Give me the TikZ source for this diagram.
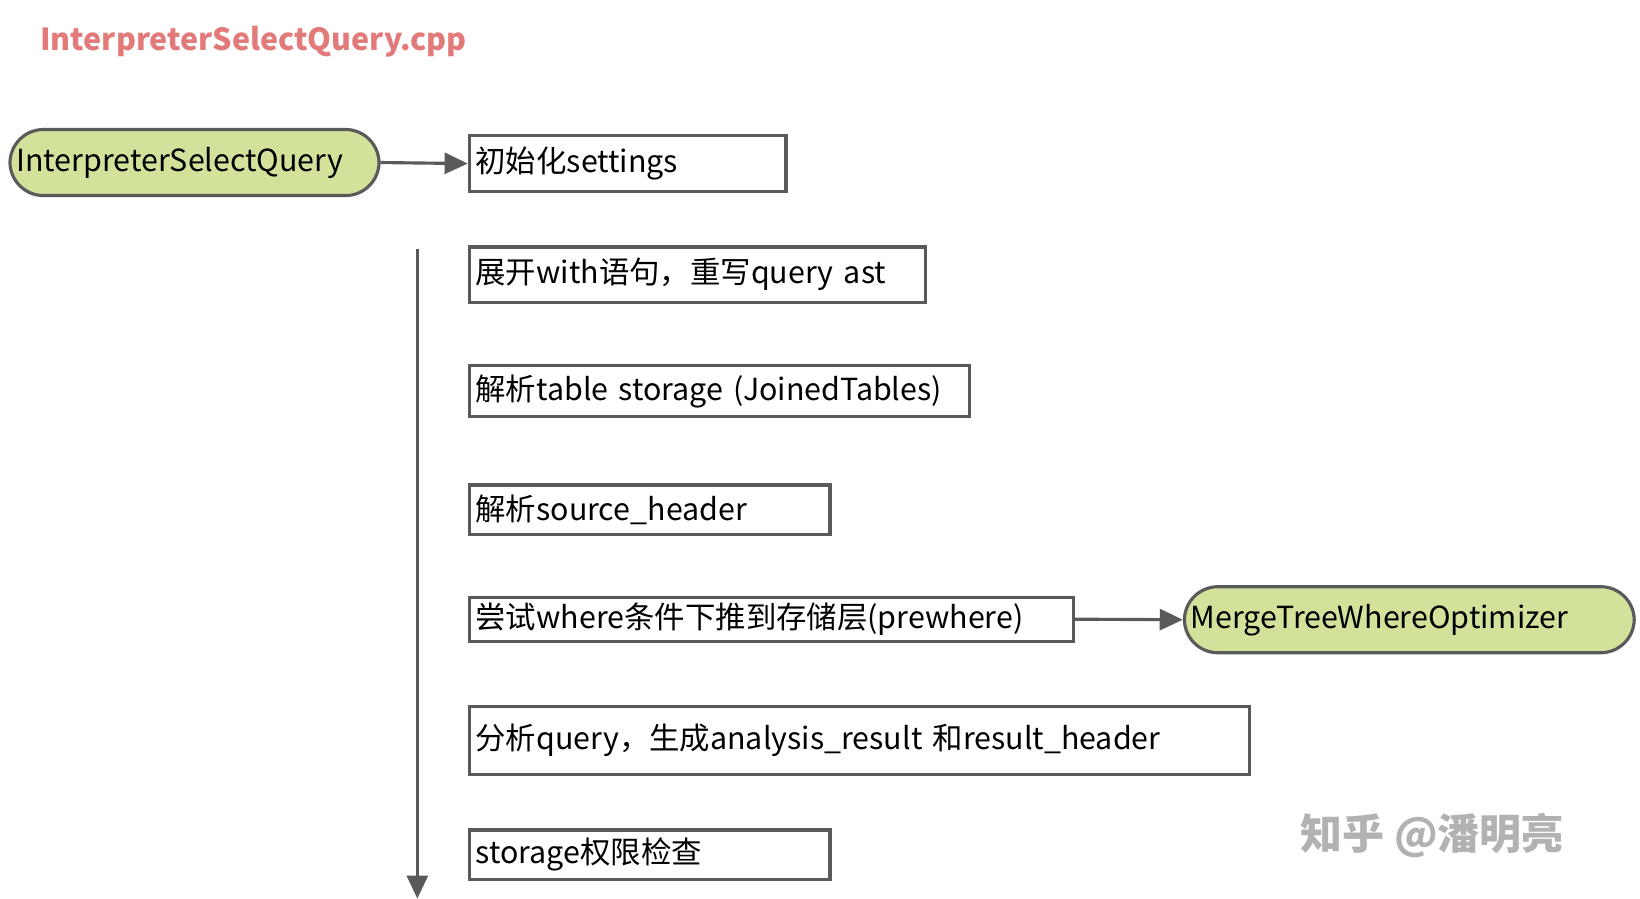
\documentclass[tikz,border=0pt]{standalone}
\usepackage{fontspec}
\setmainfont{Noto Sans CJK SC}
\usetikzlibrary{arrows.meta}
\definecolor{ln}{HTML}{5A5A5A}
\definecolor{gr}{HTML}{D3E29B}
\definecolor{tt}{HTML}{E27A7A}
\tikzset{
 bx/.style={draw=ln,line width=1.5pt,anchor=north west,inner xsep=3pt,inner ysep=0pt,align=left,font=\fontsize{14.5}{16}\selectfont},
 pill/.style={draw=ln,line width=1.5pt,fill=gr,rounded corners=16pt,anchor=north west,inner xsep=3pt,inner ysep=0pt,align=left,font=\fontsize{14.5}{16}\selectfont},
 arr/.style={draw=ln,line width=1.5pt,-{Triangle[length=11pt,width=10pt]}}
}
\begin{document}
\begin{tikzpicture}[x=0.5pt,y=-0.5pt]
\useasboundingbox (0,0) rectangle (1564,857);
\node[anchor=west,text=tt,font=\bfseries\fontsize{14.5}{16}\selectfont,inner sep=0pt] (title) at (38,40) {InterpreterSelectQuery.cpp};
\node[pill,minimum width=176pt,minimum height=31.5pt,text width=170pt] (isq) at (8,122) {InterpreterSelectQuery};
\node[bx,minimum width=151pt,minimum height=26.5pt,text width=145pt] (b1) at (446,128) {初始化settings};
\node[bx,minimum width=217.5pt,minimum height=26.5pt,text width=211.5pt] (b2) at (446,234) {展开with语句，重写query ast};
\node[bx,minimum width=238.5pt,minimum height=24.5pt,text width=232.5pt] (b3) at (446,347) {解析table storage (JoinedTables)};
\node[bx,minimum width=172pt,minimum height=23.5pt,text width=166pt] (b4) at (446,461) {解析source\_header};
\node[bx,minimum width=288pt,minimum height=21pt,text width=282pt] (b5) at (446,568) {尝试where条件下推到存储层(prewhere)};
\node[pill,minimum width=214.5pt,minimum height=31.5pt,text width=208.5pt] (mtw) at (1128,558) {MergeTreeWhereOptimizer};
\node[bx,minimum width=372pt,minimum height=32.5pt,text width=366pt] (b6) at (446,672) {分析query，生成analysis\_result 和result\_header};
\node[bx,minimum width=172pt,minimum height=23.5pt,text width=166pt] (b7) at (446,790) {storage权限检查};
\draw[arr] (isq.east) -- (b1.west);
\draw[arr] (b5.east) -- (mtw.west);
\coordinate (vs) at (398,237);
\coordinate (ve) at (398,857);
\draw[arr] (vs) -- (ve);
\node[anchor=west,text=black!30,font=\bfseries\fontsize{20}{24}\selectfont,inner sep=0pt] (wm) at (1240,797) {知乎 @潘明亮};
\end{tikzpicture}
\end{document}
